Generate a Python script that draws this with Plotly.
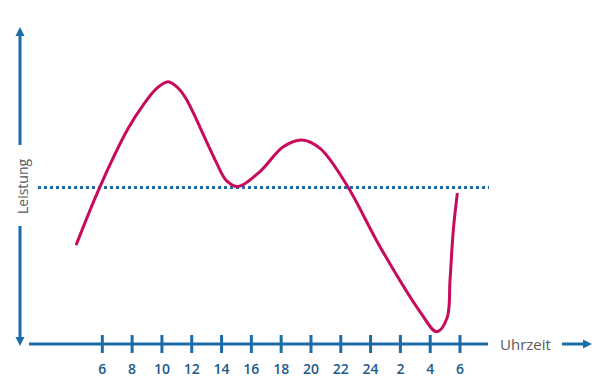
import plotly.graph_objects as go

# ---- data ----
hours = [4.24, 5.85, 7.74, 8.75, 9.65, 10.43, 11.10, 11.66, 13.00, 13.68, 14.35, 15.12,
         16.58, 18.14, 19.38, 20.61, 22.40, 24.63, 27.32, 28.44, 29.13, 29.33, 29.55, 29.82]
leistung = [31.6, 50.3, 68.9, 76.4, 81.7, 83.8, 81.7, 78.0, 64.6, 57.7, 52.1, 50.3,
            55.1, 63.0, 65.2, 62.5, 50.8, 31.1, 10.3, 3.9, 8.3, 20.5, 36.4, 48.2]
tick_vals = [6, 8, 10, 12, 14, 16, 18, 20, 22, 24, 26, 28, 30]
tick_text = ["6", "8", "10", "12", "14", "16", "18", "20", "22", "24", "2", "4", "6"]
threshold = 50

AX = "#1b6ca8"
CURVE = "#c80a5a"
LABEL = "#1d5a8c"
GREY = "#5a5a5a"

W, H = 605, 387
# pixel -> data helpers (layout only)
def hx(px):
    return 6 + (px - 102.3) / 14.905

def vy(py):
    return (344 - py) / 3.13

fig = go.Figure()

# threshold dotted line
fig.add_trace(go.Scatter(x=[hx(38), hx(489)], y=[threshold, threshold], mode="lines",
                         line=dict(color=AX, width=3, dash="dot"), hoverinfo="skip"))

# curve
fig.add_trace(go.Scatter(x=hours, y=leistung, mode="lines",
                         line=dict(color=CURVE, width=3, shape="spline", smoothing=1.0,
                                   simplify=False),
                         hoverinfo="skip"))

# tick labels
fig.add_trace(go.Scatter(x=tick_vals, y=[vy(370.5)] * len(tick_vals), mode="text",
                         text=tick_text,
                         textfont=dict(family="Open Sans", size=14, color=LABEL, weight=600),
                         hoverinfo="skip"))

shapes = []
def line(x0, y0, x1, y1, w=3):
    shapes.append(dict(type="line", xref="x", yref="y", x0=x0, y0=y0, x1=x1, y1=y1,
                       line=dict(color=AX, width=w)))

def tri(pts):
    p = "M " + " L ".join(f"{a},{b}" for a, b in pts) + " Z"
    shapes.append(dict(type="path", xref="x", yref="y", path=p,
                       fillcolor=AX, line=dict(color=AX, width=0)))

# y axis (double headed, with gap for label)
yx = hx(20)
line(yx, vy(35), yx, vy(145))
line(yx, vy(226), yx, vy(338))
tri([(hx(15.5), vy(36)), (hx(24.5), vy(36)), (hx(20), vy(27))])
tri([(hx(15.5), vy(337)), (hx(24.5), vy(337)), (hx(20), vy(346))])

# x axis
line(hx(29), vy(344), hx(488), vy(344))
for t in tick_vals:
    line(t, vy(335), t, vy(353))

# right arrow after "Uhrzeit"
line(hx(562), vy(344), hx(585), vy(344))
tri([(hx(583), vy(339.5)), (hx(583), vy(348.5)), (hx(592), vy(344))])

annotations = [
    dict(x=hx(525), y=vy(344), xref="x", yref="y", text="Uhrzeit", showarrow=False,
         font=dict(family="Open Sans", size=15, color=GREY)),
    dict(x=hx(22), y=vy(186), xref="x", yref="y", text="Leistung", showarrow=False,
         textangle=-90, font=dict(family="Open Sans", size=14, color=GREY)),
]

fig.update_layout(
    width=W, height=H, margin=dict(l=0, r=0, t=0, b=0),
    paper_bgcolor="white", plot_bgcolor="white", showlegend=False,
    xaxis=dict(range=[hx(0), hx(W)], visible=False, fixedrange=True),
    yaxis=dict(range=[vy(H), vy(0)], visible=False, fixedrange=True),
    shapes=shapes, annotations=annotations,
)

fig.write_html("out.html")
